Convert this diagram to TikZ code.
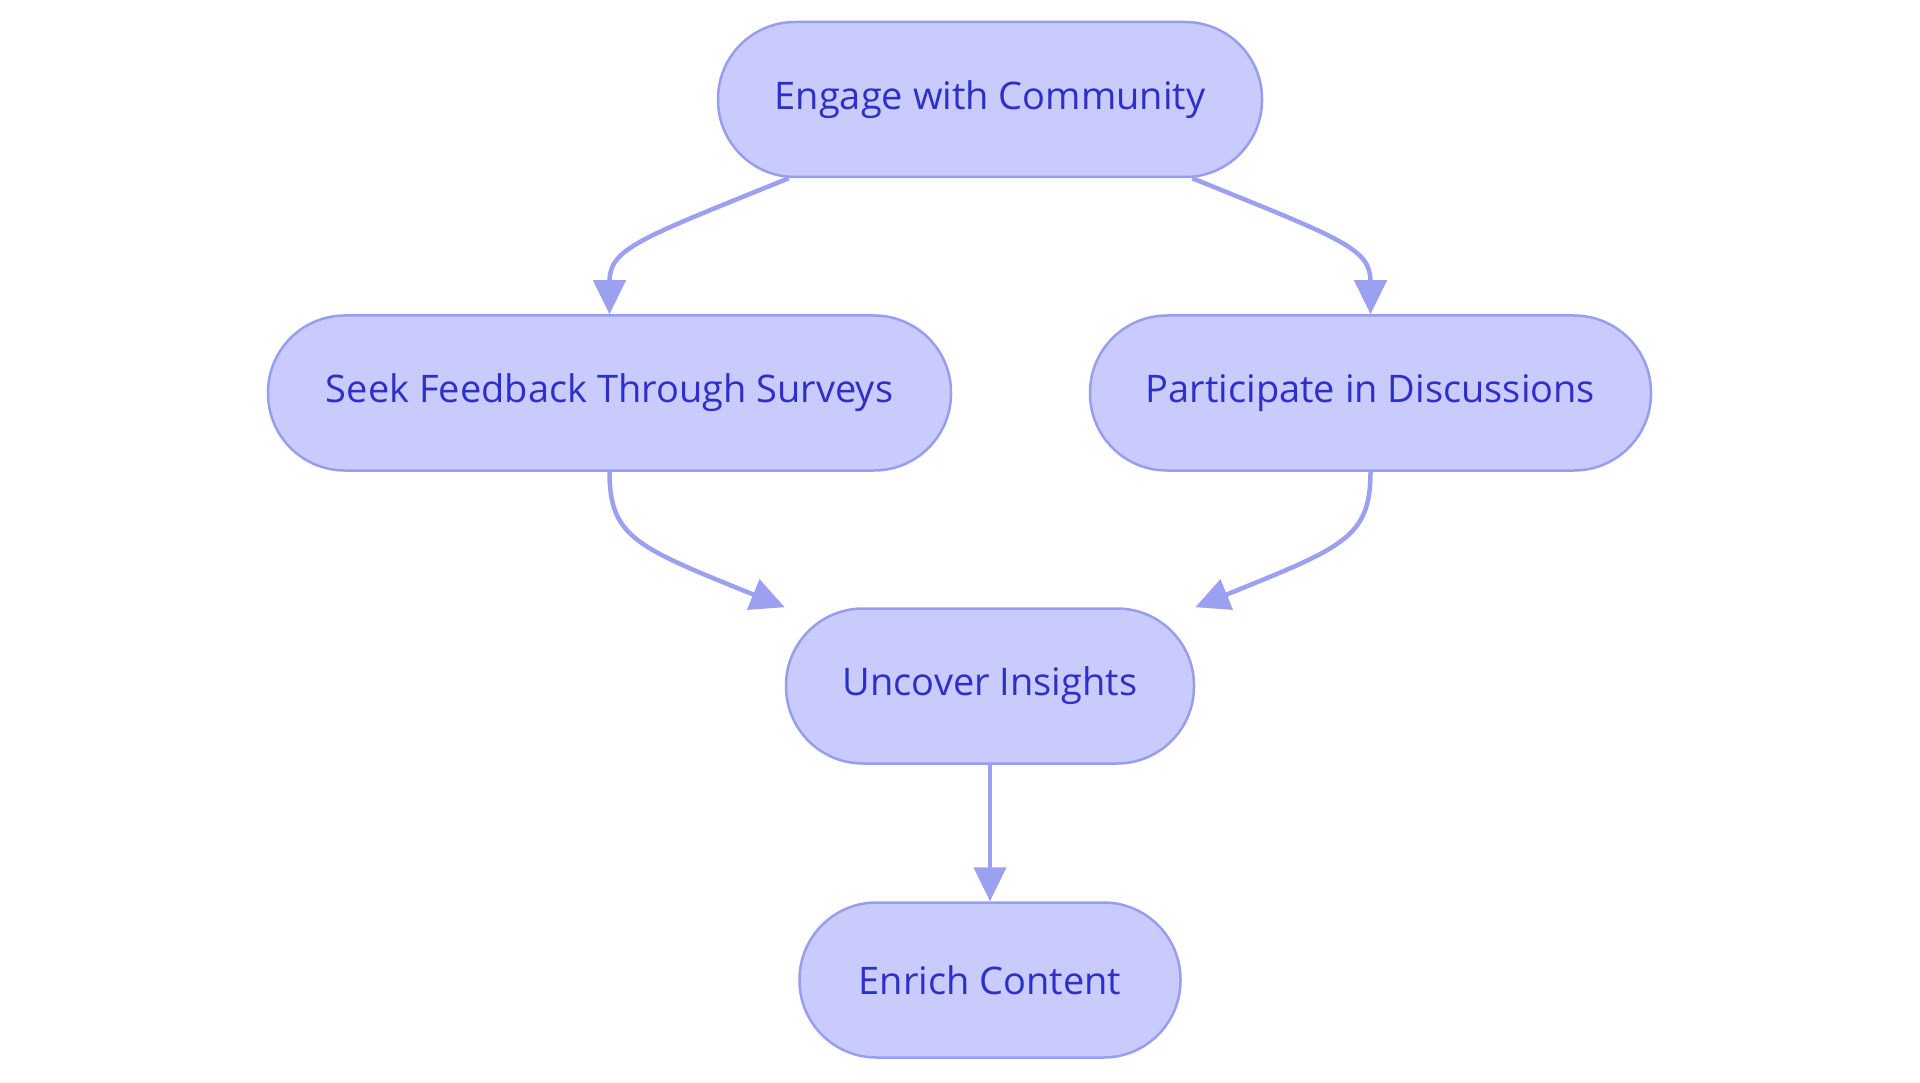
\documentclass[tikz,border=0pt]{standalone}
\usepackage{fontspec}
\setmainfont{Open Sans}
\usetikzlibrary{arrows.meta}
\definecolor{nodefill}{RGB}{201,203,253}
\definecolor{nodeline}{RGB}{152,157,238}
\definecolor{edgecol}{RGB}{156,160,240}
\definecolor{txt}{RGB}{44,48,200}
\tikzset{
  stadium/.style={draw=nodeline, fill=nodefill, line width=2.5pt, rounded corners=77pt,
    minimum height=155pt, inner sep=0pt, text=txt, font=\fontsize{38}{44}\selectfont},
  flow/.style={draw=edgecol, line width=4.5pt, -{Triangle[length=34pt,width=32pt]}}
}
\begin{document}
\begin{tikzpicture}[x=1pt,y=-1pt]
\useasboundingbox[fill=white] (0,0) rectangle (1920,1083);
\node[stadium, minimum width=544pt] (eng) at (990,99.5) {Engage with Community};
\node[stadium, minimum width=683pt] (seek) at (609.5,393) {Seek Feedback Through Surveys};
\node[stadium, minimum width=561pt] (part) at (1370.5,393) {Participate in Discussions};
\node[stadium, minimum width=408pt] (unc) at (990,686) {Uncover Insights};
\node[stadium, minimum width=381pt] (enr) at (990,980) {Enrich Content};
\coordinate (e1) at ([xshift=72pt]eng.south west);
\coordinate (e2) at ([xshift=-71pt]eng.south east);
\draw[flow] (e1) .. controls ++(-148,60) and ++(0,-66) .. (seek.north);
\draw[flow] (e2) .. controls ++(148,60) and ++(0,-66) .. (part.north);
\draw[flow] (seek.south) .. controls ++(0,66) and ++(-148,-60) .. (unc.north west);
\draw[flow] (part.south) .. controls ++(0,66) and ++(148,-60) .. (unc.north east);
\draw[flow] (unc.south) -- (enr.north);
\end{tikzpicture}
\end{document}
